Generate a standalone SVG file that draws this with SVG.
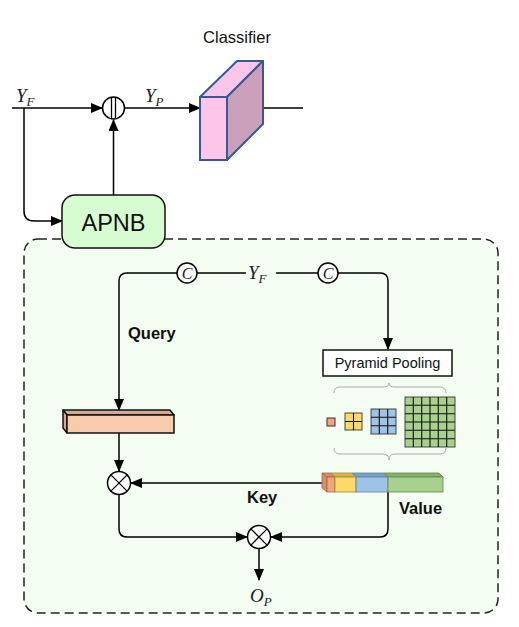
<svg xmlns="http://www.w3.org/2000/svg" width="519" height="627" viewBox="0 0 519 627">
<style>
.ln{fill:none;stroke:#000;stroke-width:1.5}
.ar{marker-end:url(#arr)}
.math{font-family:"Liberation Serif","DejaVu Serif",serif;font-style:italic;fill:#222}
.sans{font-family:"Liberation Sans",Arial,sans-serif;fill:#111}
.bold{font-family:"Liberation Sans",Arial,sans-serif;font-weight:bold;fill:#111;font-size:16.5px}
.op{fill:#fff;stroke:#000;stroke-width:1.5}
.brace{fill:none;stroke:#aaa;stroke-width:1}
.grid{fill:none;stroke:#111;stroke-width:1.1}
.cell{stroke:#555;stroke-width:0.8}
</style>
<defs>
<marker id="arr" markerWidth="12" markerHeight="10" refX="11" refY="5" orient="auto" markerUnits="userSpaceOnUse"><path d="M0,0 L12,5 L0,10 z" fill="#000"/></marker>
</defs>
<rect width="519" height="627" fill="#fff"/>

<g id="apnb-detail">
<rect x="24" y="239" width="474" height="374" rx="14" fill="#f3fdf1" stroke="#222" stroke-width="1.5" stroke-dasharray="9 5"/>
</g>

<g id="connectors">
<path class="ln ar" d="M12,108 H102"/>
<path class="ln ar" d="M24,108 V211 Q24,221 34,221 H62"/>
<path class="ln ar" d="M113.5,195 V120"/>
<path class="ln ar" d="M125,108 H200"/>
<path class="ln" d="M263,108 H303"/>
<path class="ln ar" d="M177,273 H127 Q119,273 119,281 V410"/>
<path class="ln" d="M197,273 H246"/>
<path class="ln" d="M276,273 H318"/>
<path class="ln ar" d="M338,273 H380 Q388,273 388,281 V349"/>
<path class="ln ar" d="M119,433 V471"/>
<path class="ln ar" d="M322,483 H131"/>
<path class="ln ar" d="M119,495 V529 Q119,537 127,537 H247"/>
<path class="ln ar" d="M388,492 V529 Q388,537 380,537 H271"/>
<path class="ln ar" d="M259,549 V580"/>
</g>

<g id="label-yf-in"><text class="math" x="16" y="102" font-size="19">Y<tspan font-size="13" dy="4">F</tspan></text></g>
<g id="label-yp"><text class="math" x="145" y="102" font-size="19">Y<tspan font-size="13" dy="4">P</tspan></text></g>

<g id="concat">
<circle class="op" cx="113.5" cy="108" r="11"/>
<path d="M111.5,97.2 V118.8 M115.5,97.2 V118.8" stroke="#000" stroke-width="1.3"/>
</g>

<g id="classifier">
<text class="sans" x="237" y="43" font-size="16.5" text-anchor="middle">Classifier</text>
<path d="M200,97 L237,61 L263,61 L227,97 Z" fill="#fcc5e9" stroke="#375a94" stroke-width="2" stroke-linejoin="round"/>
<path d="M227,97 L263,61 L263,124 L227,160 Z" fill="#cba0ba" stroke="#375a94" stroke-width="2" stroke-linejoin="round"/>
<rect x="200" y="97" width="27" height="63" fill="#fcc5e9" stroke="#375a94" stroke-width="2"/>
</g>

<g id="apnb">
<rect x="62" y="195" width="103" height="53" rx="13" fill="#d8fcd2" stroke="#111" stroke-width="1.5"/>
<text class="sans" x="113.5" y="231" font-size="23.5" text-anchor="middle">APNB</text>
</g>

<g id="c1">
<circle class="op" cx="187" cy="273" r="10"/>
<text class="math" x="187" y="279" font-size="16" text-anchor="middle">C</text>
</g>
<g id="label-yf"><text class="math" x="248" y="279" font-size="19">Y<tspan font-size="13" dy="4">F</tspan></text></g>
<g id="c2">
<circle class="op" cx="328" cy="273" r="10"/>
<text class="math" x="328" y="279" font-size="16" text-anchor="middle">C</text>
</g>

<g id="query-label"><text class="bold" x="128" y="339">Query</text></g>

<g id="pyramid-pooling">
<rect x="323" y="350" width="129" height="26" fill="#fff" stroke="#111" stroke-width="1.5"/>
<text class="sans" x="387.5" y="368" font-size="14.5" text-anchor="middle">Pyramid Pooling</text>
</g>

<g id="pooled-maps">
<path class="brace" d="M334,393 Q334,387 340,387 H383 Q389,387 389,383 Q389,387 395,387 H440 Q446,387 446,393"/>
<path class="brace" d="M334,448 Q334,454 340,454 H383 Q389,454 389,460 Q389,454 395,454 H440 Q446,454 446,448"/>
<rect x="327" y="418" width="8" height="8" fill="#f2a57c" stroke="#333" stroke-width="1"/>
<rect x="345" y="413" width="17" height="17" fill="#ffd966" stroke="#444" stroke-width="1"/>
<path class="grid" d="M353.5,413 V430 M345,421.5 H362"/>
<rect x="371" y="409" width="25" height="25" fill="#9dc3e6" stroke="#444" stroke-width="1"/>
<path class="grid" d="M379.3,409 V434 M387.7,409 V434 M371,417.3 H396 M371,425.7 H396"/>
<rect x="405" y="397" width="50" height="50" fill="#a9d18e" stroke="#444" stroke-width="1"/>
<path class="grid" d="M413.3,397 V447 M421.7,397 V447 M430,397 V447 M438.3,397 V447 M446.7,397 V447 M405,405.3 H455 M405,413.7 H455 M405,422 H455 M405,430.3 H455 M405,438.7 H455"/>
</g>

<g id="query-bar">
<path d="M63,410 L170,410 L174,415 L67,415 Z" fill="#dba88a" stroke="#111" stroke-width="1.5" stroke-linejoin="round"/>
<path d="M63,410 L67,415 L67,433 L63,428 Z" fill="#dba88a" stroke="#111" stroke-width="1.5" stroke-linejoin="round"/>
<rect x="67" y="415" width="107" height="18" fill="#f8cbad" stroke="#111" stroke-width="1.5"/>
</g>

<g id="key-value-bar">
<path d="M322,473 L327,477 L327,492 L322,488 Z" fill="#d98f66" stroke="#9a6a50" stroke-width="0.8"/>
<path d="M322,473 L331,473 L335,477 L327,477 Z" fill="#d98f66" stroke="#9a6a50" stroke-width="0.8"/>
<path d="M331,473 L352,473 L356,477 L335,477 Z" fill="#d9b44a" stroke="#9a8a40" stroke-width="0.8"/>
<path d="M352,473 L384,473 L388,477 L356,477 Z" fill="#7fa2c4" stroke="#6080a0" stroke-width="0.8"/>
<path d="M384,473 L439,473 L443,477 L388,477 Z" fill="#89b070" stroke="#60884a" stroke-width="0.8"/>
<rect x="327" y="477" width="8" height="15" fill="#f2a57c" stroke="#9a6a50" stroke-width="0.8"/>
<rect x="335" y="477" width="21" height="15" fill="#ffd966" stroke="#9a8a40" stroke-width="0.8"/>
<rect x="356" y="477" width="32" height="15" fill="#9dc3e6" stroke="#6080a0" stroke-width="0.8"/>
<rect x="388" y="477" width="55" height="15" fill="#a9d18e" stroke="#60884a" stroke-width="0.8"/>
</g>

<g id="key-label"><text class="bold" x="247" y="503">Key</text></g>
<g id="value-label"><text class="bold" x="399" y="514">Value</text></g>

<g id="mul1">
<circle class="op" cx="119" cy="483" r="11.5"/>
<path d="M110.9,474.9 L127.1,491.1 M127.1,474.9 L110.9,491.1" stroke="#000" stroke-width="1.3"/>
</g>
<g id="mul2">
<circle class="op" cx="259" cy="537" r="11.5"/>
<path d="M250.9,528.9 L267.1,545.1 M267.1,528.9 L250.9,545.1" stroke="#000" stroke-width="1.3"/>
</g>

<g id="label-op"><text class="math" x="250" y="602" font-size="19">O<tspan font-size="13" dy="4">P</tspan></text></g>
</svg>
